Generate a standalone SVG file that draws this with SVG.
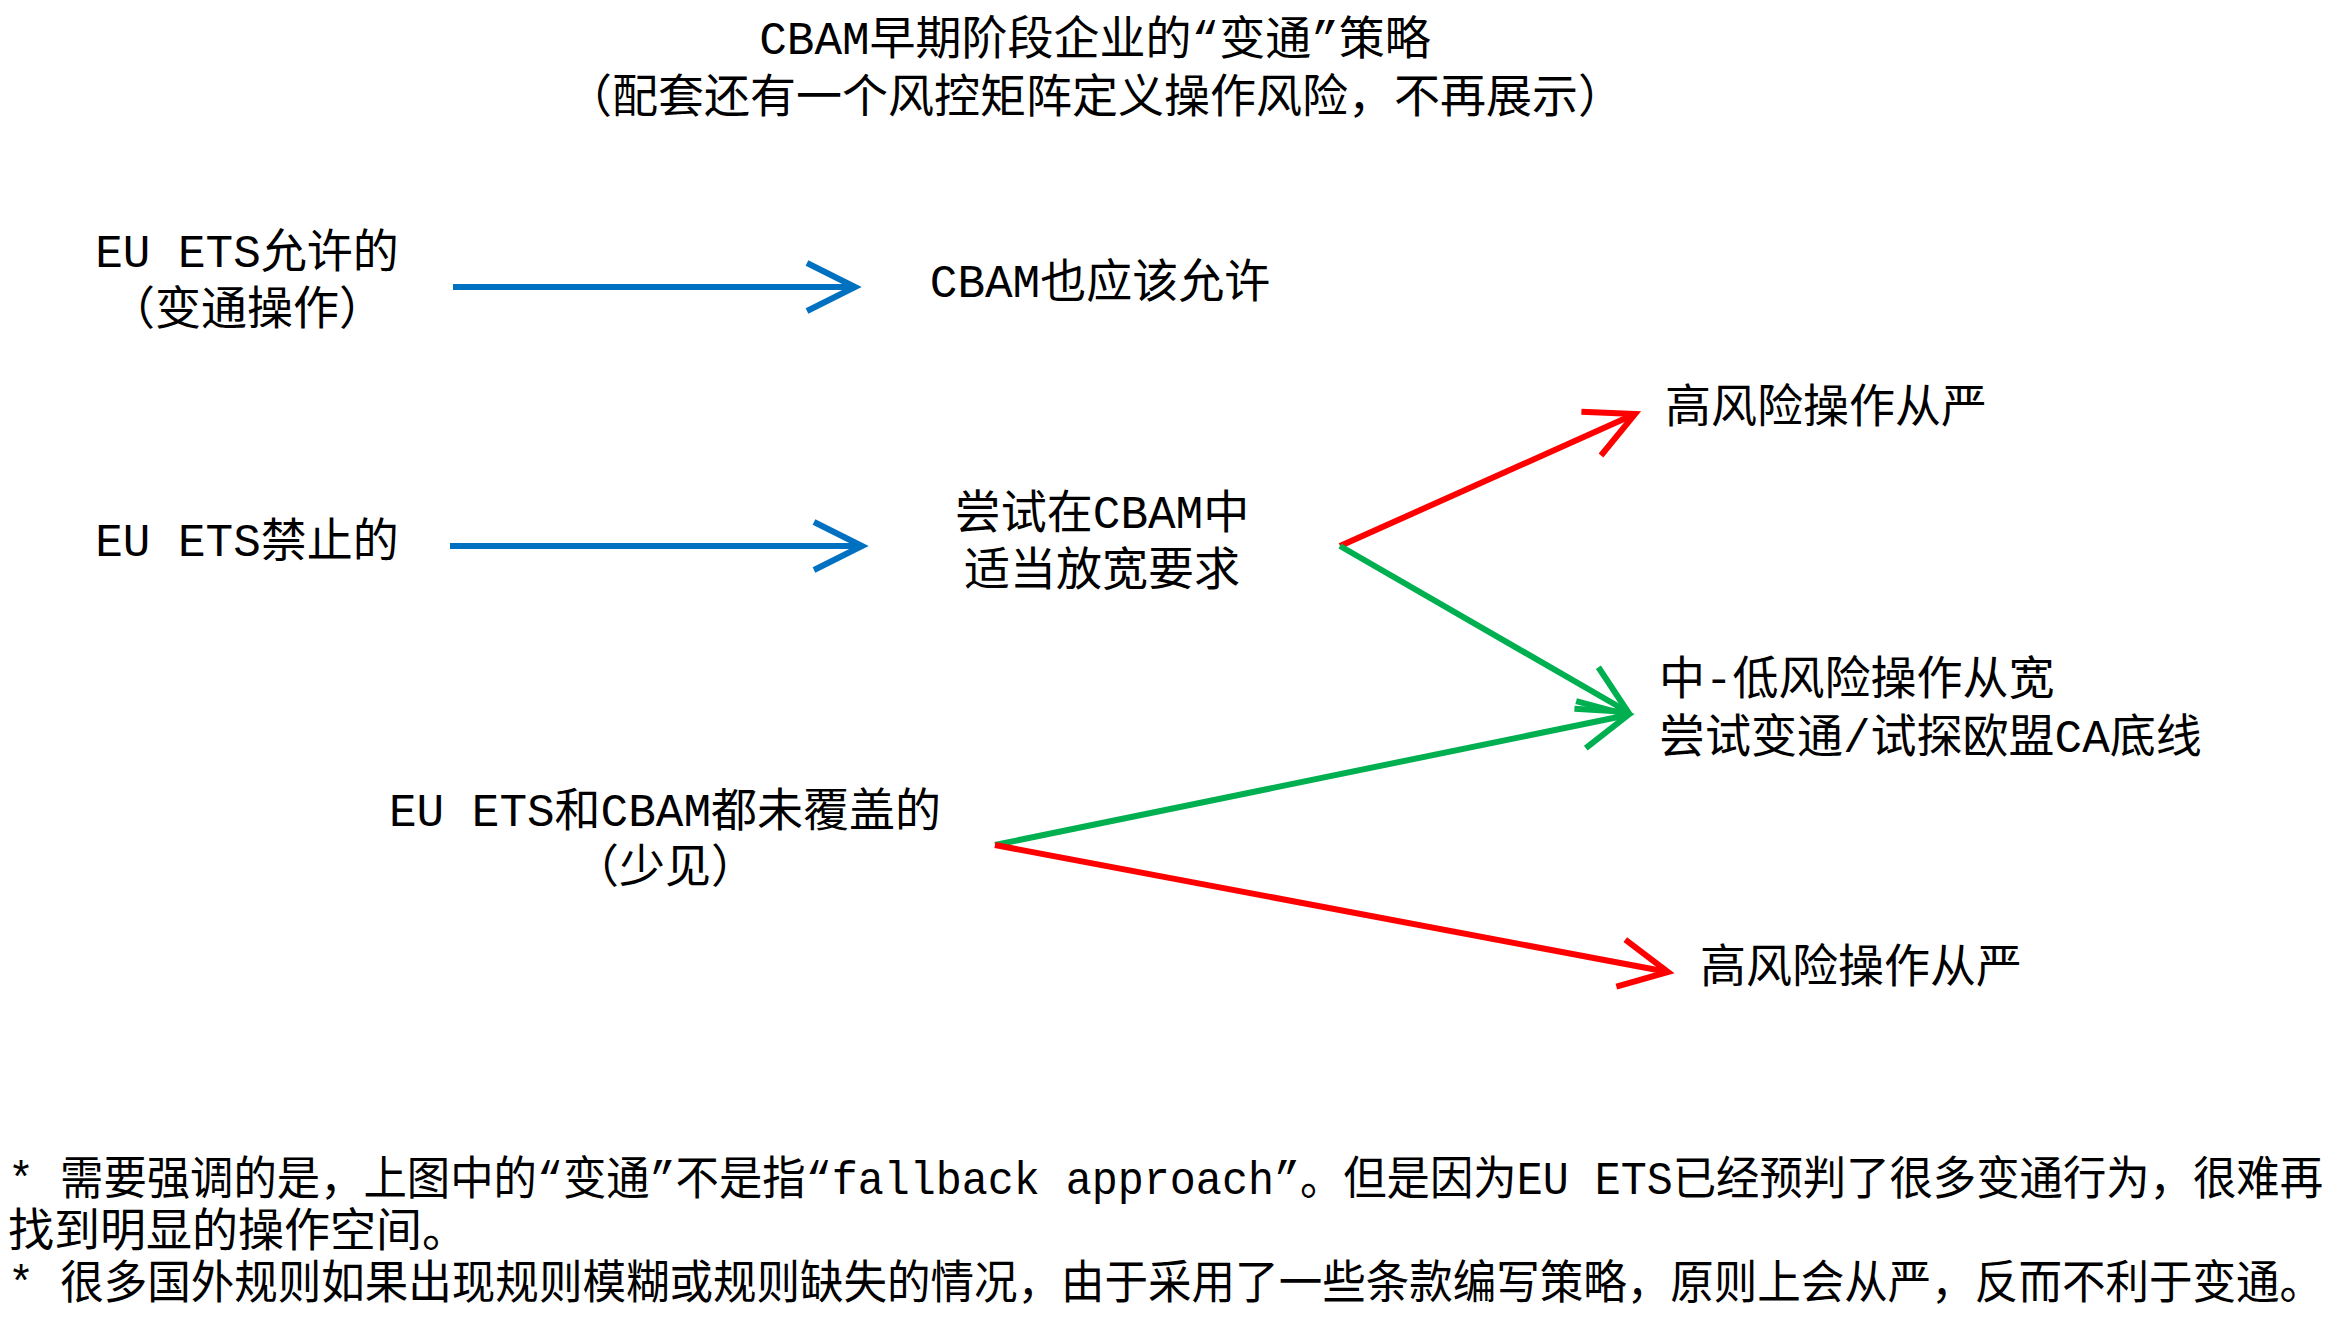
<svg xmlns="http://www.w3.org/2000/svg" width="2352" height="1342" viewBox="0 0 2352 1342">
<style>
text{font-family:"Liberation Mono","Noto Sans CJK SC",monospace;font-size:46px;fill:#000;dominant-baseline:middle}
.c{text-anchor:middle}
.l{fill:none;stroke-width:6}
.b{stroke:#0070C0}.r{stroke:#FF0000}.g{stroke:#00B050}
</style>
<defs>
<marker id="mb" viewBox="0 0 20 20" refX="18" refY="10" markerWidth="20" markerHeight="20" markerUnits="userSpaceOnUse" orient="auto" style="overflow:visible"><path d="M-30,-14 L18,10 L-30,34" fill="none" stroke="#0070C0" stroke-width="6"/></marker>
<marker id="mr" viewBox="0 0 20 20" refX="18" refY="10" markerWidth="20" markerHeight="20" markerUnits="userSpaceOnUse" orient="auto" style="overflow:visible"><path d="M-30,-14 L18,10 L-30,34" fill="none" stroke="#FF0000" stroke-width="6"/></marker>
<marker id="mg" viewBox="0 0 20 20" refX="18" refY="10" markerWidth="20" markerHeight="20" markerUnits="userSpaceOnUse" orient="auto" style="overflow:visible"><path d="M-30,-14 L18,10 L-30,34" fill="none" stroke="#00B050" stroke-width="6"/></marker>
</defs>
<rect width="2352" height="1342" fill="#fff"/>
<g id="title">
<text class="c" x="1095" y="42">CBAM早期阶段企业的“变通”策略</text>
<text class="c" x="1095" y="100">（配套还有一个风控矩阵定义操作风险，不再展示）</text>
</g>
<g id="n1"><text class="c" x="247" y="255">EU ETS允许的</text><text class="c" x="247" y="312">（变通操作）</text></g>
<g id="n2"><text class="c" x="1100" y="285">CBAM也应该允许</text></g>
<g id="n3"><text class="c" x="247" y="544">EU ETS禁止的</text></g>
<g id="n4"><text class="c" x="1102" y="516">尝试在CBAM中</text><text class="c" x="1102" y="573">适当放宽要求</text></g>
<g id="n5"><text x="1665" y="410">高风险操作从严</text></g>
<g id="n6"><text x="1659" y="682">中-低风险操作从宽</text><text x="1659" y="740">尝试变通/试探欧盟CA底线</text></g>
<g id="n7"><text class="c" x="665" y="814">EU ETS和CBAM都未覆盖的</text><text class="c" x="665" y="870">（少见）</text></g>
<g id="n8"><text x="1700" y="970">高风险操作从严</text></g>
<g id="connectors">
<line class="l b" x1="453" y1="287" x2="855" y2="287" marker-end="url(#mb)"/>
<line class="l b" x1="450" y1="546" x2="862" y2="546" marker-end="url(#mb)"/>
<line class="l r" x1="1340" y1="546" x2="1635" y2="414" marker-end="url(#mr)"/>
<line class="l g" x1="1340" y1="546" x2="1628" y2="712" marker-end="url(#mg)"/>
<line class="l g" x1="995" y1="845" x2="1628" y2="715" marker-end="url(#mg)"/>
<line class="l r" x1="995" y1="845" x2="1668" y2="972" marker-end="url(#mr)"/>
</g>
<g id="notes">
<text x="8" y="1182" textLength="2315" lengthAdjust="spacingAndGlyphs">* 需要强调的是，上图中的“变通”不是指“fallback approach”。但是因为EU ETS已经预判了很多变通行为，很难再</text>
<text x="8" y="1234">找到明显的操作空间。</text>
<text x="8" y="1286" textLength="2315" lengthAdjust="spacingAndGlyphs">* 很多国外规则如果出现规则模糊或规则缺失的情况，由于采用了一些条款编写策略，原则上会从严，反而不利于变通。</text>
</g>
</svg>
